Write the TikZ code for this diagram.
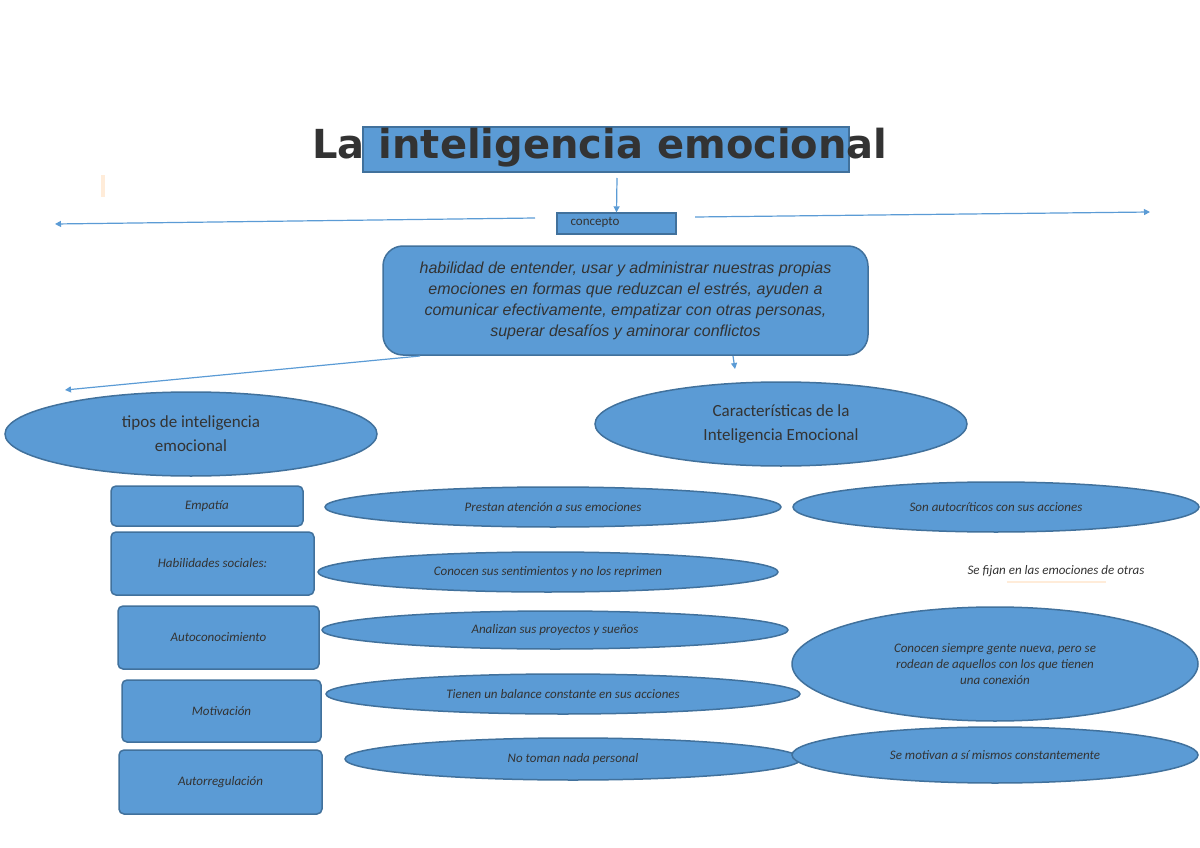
\documentclass[tikz,border=0pt]{standalone}
\usepackage{fontspec}
\setmainfont{Carlito}
\newfontfamily\titlefont{DejaVu Sans}
\newfontfamily\arialfont{Liberation Sans}
\usetikzlibrary{shapes.geometric,arrows.meta}
\definecolor{bfill}{HTML}{5B9BD5}
\definecolor{bline}{HTML}{41719C}
\definecolor{txt}{HTML}{333333}
\tikzset{
 blue/.style={fill=bfill,draw=bline,line width=1.5pt,text=txt},
 oval/.style={blue,ellipse,inner sep=0pt,font=\itshape\fontsize{13}{16}\selectfont,align=center},
 lbox/.style={blue,rounded corners=5pt,font=\itshape\fontsize{13}{16}\selectfont},
 conn/.style={draw=bfill,line width=1.2pt,-{Triangle[width=6pt,length=6pt]}}
}
\begin{document}
\begin{tikzpicture}[x=1pt,y=-1pt]
\useasboundingbox (0,0) rectangle (1200,848);
\fill[bfill,draw=bline,line width=1.2pt] (363,127) rectangle (849,172);
\node[font=\titlefont\bfseries\fontsize{40}{44}\selectfont,text=txt] (title) at (600,148) {La inteligencia emocional};
\fill[orange!15] (101,175) rectangle (105,197);
\node[blue,minimum width=119pt,minimum height=21pt,inner sep=0pt,line width=1.2pt] (conc) at (616.5,223.5) {};
\node[anchor=west,font=\fontsize{13}{15}\selectfont,text=txt] at (567,222) {concepto};
\coordinate (t1) at (617,178);
\draw[conn] (t1) -- (conc.north);
\coordinate (cl) at (535,218); \coordinate (clL) at (55,224);
\coordinate (cr) at (695,217); \coordinate (crR) at (1150,212);
\draw[conn] (cl) -- (clL);
\draw[conn] (cr) -- (crR);
\node[blue,rounded corners=20pt,minimum width=485pt,minimum height=109pt,align=center,
 font=\arialfont\itshape\fontsize{16}{21}\selectfont] (def) at (625.5,300.5)
 {habilidad de entender, usar y administrar nuestras propias\\emociones en formas que reduzcan el estrés, ayuden a\\comunicar efectivamente, empatizar con otras personas,\\superar desafíos y aminorar conflictos};
\node[oval,minimum width=372pt,minimum height=84pt,font=\fontsize{17}{24}\selectfont] (tipos) at (191,434) {tipos de inteligencia\\emocional};
\node[oval,minimum width=372pt,minimum height=84pt,font=\fontsize{17}{24}\selectfont] (car) at (781,424) {Características de la\\Inteligencia Emocional};
\coordinate (d1) at (420,356); \coordinate (d1e) at (65,390);
\draw[conn] (d1) -- (d1e);
\coordinate (d2) at (733,356); \coordinate (d2e) at (735,369);
\draw[conn] (d2) -- (d2e);
% left boxes
\node[lbox,minimum width=192pt,minimum height=40pt] (b1) at (207,506) {Empatía};
\node[lbox,minimum width=203pt,minimum height=63pt] (b2) at (212.5,563.5) {Habilidades sociales:};
\node[lbox,minimum width=201pt,minimum height=63pt] (b3) at (218.5,637.5) {Autoconocimiento};
\node[lbox,minimum width=199pt,minimum height=62pt] (b4) at (221.5,711) {Motivación};
\node[lbox,minimum width=203pt,minimum height=64pt] (b5) at (220.5,782) {Autorregulación};
% middle ovals
\node[oval,minimum width=456pt,minimum height=40pt] (m1) at (553,507) {Prestan atención a sus emociones};
\node[oval,minimum width=460pt,minimum height=40pt] (m2) at (548,572) {Conocen sus sentimientos y no los reprimen};
\node[oval,minimum width=466pt,minimum height=38pt] (m3) at (555,630) {Analizan sus proyectos y sueños};
\node[oval,minimum width=474pt,minimum height=40pt] (m4) at (563,694) {Tienen un balance constante en sus acciones};
\node[oval,minimum width=456pt,minimum height=42pt] (m5) at (573,759) {No toman nada personal};
% right
\node[oval,minimum width=406pt,minimum height=50pt] (r1) at (996,507) {Son autocríticos con sus acciones};
\node[font=\itshape\fontsize{13}{16}\selectfont,text=txt] (r2) at (1056,571) {Se fijan en las emociones de otras};
\draw[orange!15,line width=1.5pt] (1007,582) -- (1106,582);
\node[oval,minimum width=406pt,minimum height=114pt] (r3) at (995,664) {Conocen siempre gente nueva, pero se\\rodean de aquellos con los que tienen\\una conexión};
\node[oval,minimum width=406pt,minimum height=56pt] (r4) at (995,755) {Se motivan a sí mismos constantemente};
\end{tikzpicture}
\end{document}
